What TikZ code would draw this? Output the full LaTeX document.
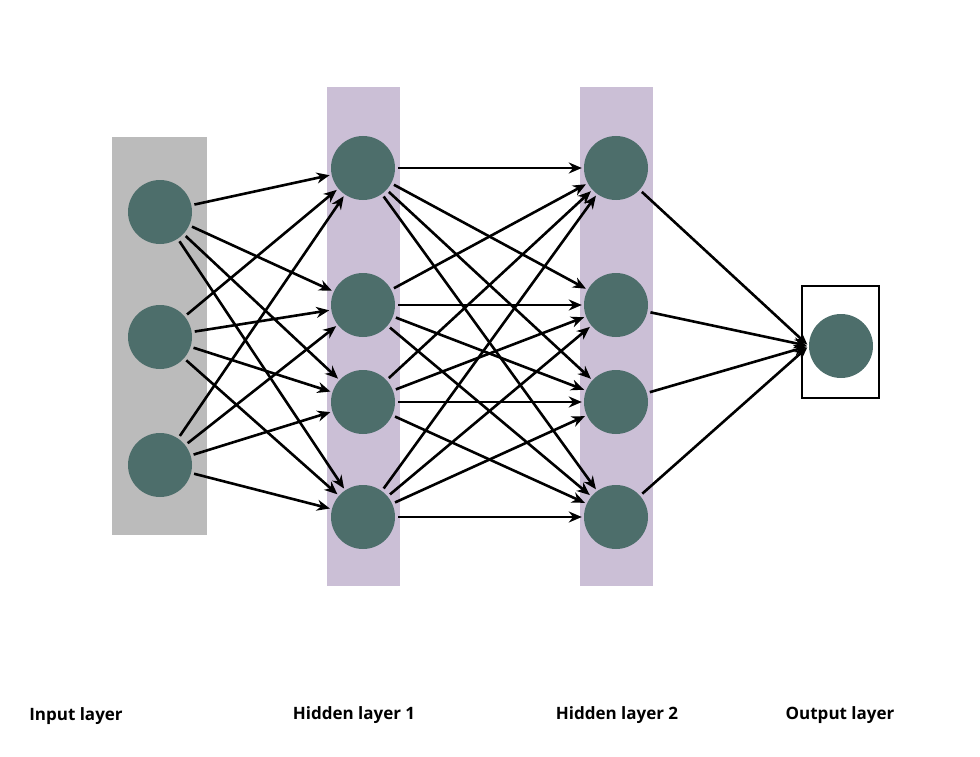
\documentclass[tikz,border=0pt]{standalone}
\usepackage{fontspec}
\setmainfont{Open Sans}
\usetikzlibrary{arrows.meta}
\definecolor{neuron}{HTML}{4D6E6B}
\definecolor{inband}{HTML}{BBBBBB}
\definecolor{hidband}{HTML}{CBBFD6}
\begin{document}
\begin{tikzpicture}
	[x=1pt,y=-1pt,
	unit/.style={circle, fill=neuron, minimum size=64pt, inner sep=0pt},
	band/.style={draw=none},
	link/.style={-{Stealth[length=13pt,width=11pt]}, line width=2.6pt, shorten <=3pt, shorten >=2pt},
	caption/.style={font=\bfseries\fontsize{17pt}{20pt}\selectfont}]

\useasboundingbox (0,0) rectangle (980,757);
% layer bands
\fill [inband] (112,137) rectangle (207,535);
\fill [hidband] (327,87) rectangle (400,586);
\fill [hidband] (580,87) rectangle (653,586);
\draw [line width=1.2pt] (802,286) rectangle (879,398);

% neurons
\foreach \i/\y in {1/212,2/337,3/465}
	\node [unit] (in\i) at (160,\y) {};
\foreach \i/\y in {1/168,2/305,3/402,4/517} {
	\node [unit] (ha\i) at (363,\y) {};
	\node [unit] (hb\i) at (616,\y) {};
}
\node [unit] (out) at (841,346) {};

% connections
\foreach \i in {1,2,3}
	\foreach \j in {1,2,3,4}
		\draw [link] (in\i) -- (ha\j);
\foreach \i in {1,2,3,4}
	\foreach \j in {1,2,3,4}
		\draw [link] (ha\i) -- (hb\j);
\foreach \i in {1,2,3,4}
	\draw [link] (hb\i) -- (out.west);

% captions
\node [caption] (capin) at (76,716) {Input layer};
\node [caption] (capha) at (354,715) {Hidden layer 1};
\node [caption] (caphb) at (617,715) {Hidden layer 2};
\node [caption] (capout) at (840,715) {Output layer};
\end{tikzpicture}
\end{document}
